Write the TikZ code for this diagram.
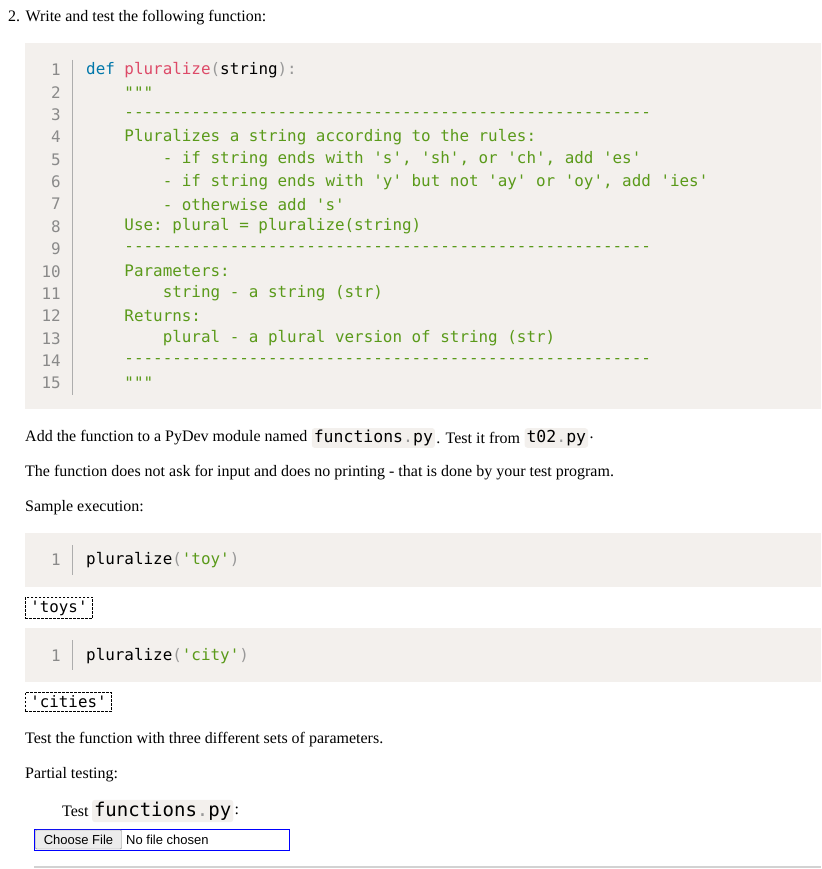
\documentclass[tikz,border=0pt]{standalone}
\usepackage{fontspec}
\setmainfont{Liberation Serif}
\setmonofont{DejaVu Sans Mono}
\newfontfamily\uisans{Liberation Sans}
\definecolor{codebg}{HTML}{F3F0ED}
\definecolor{kw}{HTML}{0077AA}
\definecolor{fn}{HTML}{DD4A68}
\definecolor{gr}{HTML}{5A9A1A}
\definecolor{pu}{HTML}{999999}
\definecolor{ln}{HTML}{8A8A8A}
\newcommand{\cw}[1]{\textcolor{kw}{#1}}
\newcommand{\cf}[1]{\textcolor{fn}{#1}}
\newcommand{\cg}[1]{\textcolor{gr}{#1}}
\newcommand{\cp}[1]{\textcolor{pu}{#1}}
\begin{document}
\begin{tikzpicture}[x=1pt,y=-1pt,
  txt/.style={anchor=west,inner sep=0pt,font=\fontsize{16}{18}\selectfont},
  code/.style={anchor=west,inner sep=0pt,font=\fontsize{15.9}{18}\ttfamily},
  num/.style={anchor=east,inner sep=0pt,text=ln,font=\fontsize{15.9}{18}\ttfamily},
  sep/.style={draw=ln!70,line width=0.8pt},
  outbox/.style={draw,dash pattern=on 2.5pt off 1.5pt,line width=0.9pt,inner xsep=5pt,inner ysep=3.5pt,anchor=west,font=\fontsize{15.8}{17}\ttfamily},
  inl/.style={fill=codebg,rounded corners=3pt,inner sep=2pt,anchor=west,font=\fontsize{16.5}{18}\ttfamily}]
\useasboundingbox (0,0) rectangle (821,869);
\node[txt] (t1) at (8,18) {2. Write and test the following function:};
\fill[codebg] (25,43) rectangle (821,409);
\draw[sep] (72,60) -- (72,395);
\foreach \i in {1,...,15}{\node[num] (n\i) at (61,{70+(\i-1)*22.36}) {\i};}
\newcommand{\dsh}{-------------------------------------------------------}
\node[code] (c1) at (86,70) {\cw{def} \cf{pluralize}\cp{(}string\cp{):}};
\node[code] (c2) at (86,92.4) {\cg{\ \ \ \ """}};
\node[code] (c3) at (86,114.7) {\cg{\ \ \ \ \dsh}};
\node[code] (c4) at (86,137.1) {\cg{\ \ \ \ Pluralizes a string according to the rules:}};
\node[code] (c5) at (86,159.4) {\cg{\ \ \ \ \ \ \ \ - if string ends with 's', 'sh', or 'ch', add 'es'}};
\node[code] (c6) at (86,181.8) {\cg{\ \ \ \ \ \ \ \ - if string ends with 'y' but not 'ay' or 'oy', add 'ies'}};
\node[code] (c7) at (86,204.2) {\cg{\ \ \ \ \ \ \ \ - otherwise add 's'}};
\node[code] (c8) at (86,226.5) {\cg{\ \ \ \ Use: plural = pluralize(string)}};
\node[code] (c9) at (86,248.9) {\cg{\ \ \ \ \dsh}};
\node[code] (c10) at (86,271.2) {\cg{\ \ \ \ Parameters:}};
\node[code] (c11) at (86,293.6) {\cg{\ \ \ \ \ \ \ \ string - a string (str)}};
\node[code] (c12) at (86,316) {\cg{\ \ \ \ Returns:}};
\node[code] (c13) at (86,338.3) {\cg{\ \ \ \ \ \ \ \ plural - a plural version of string (str)}};
\node[code] (c14) at (86,360.7) {\cg{\ \ \ \ \dsh}};
\node[code] (c15) at (86,383) {\cg{\ \ \ \ """}};
\node[txt] (a1) at (25,438) {Add the function to a PyDev module named};
\node[inl] (a2) at (a1.east) [xshift=4pt] {functions\cp{.}py};
\node[txt] (a3) at (a2.east) [xshift=1pt] {. Test it from};
\node[inl] (a4) at (a3.east) [xshift=4pt] {t02\cp{.}py};
\node[txt] (a5) at (a4.east) [xshift=1pt] {.};
\node[txt] (b1) at (25,473) {The function does not ask for input and does no printing - that is done by your test program.};
\node[txt] (b2) at (25,508) {Sample execution:};
\fill[codebg] (25,533) rectangle (821,587);
\draw[sep] (72,545) -- (72,575);
\node[num] (s1n) at (61,560) {1};
\node[code] (s1) at (86,560) {pluralize\cp{(}\cg{'toy'}\cp{)}};
\node[outbox] (o1) at (25,608) {'toys'};
\fill[codebg] (25,628) rectangle (821,682);
\draw[sep] (72,640) -- (72,670);
\node[num] (s2n) at (61,656) {1};
\node[code] (s2) at (86,656) {pluralize\cp{(}\cg{'city'}\cp{)}};
\node[outbox] (o2) at (25,702) {'cities'};
\node[txt] (d1) at (25,740) {Test the function with three different sets of parameters.};
\node[txt] (d2) at (25,775) {Partial testing:};
\node[txt] (e1) at (62,811) {Test};
\node[inl,font=\fontsize{19}{20}\ttfamily] (e2) at (e1.east) [xshift=3pt] {functions\cp{.}py};
\node[txt] (e3) at (e2.east) [xshift=1pt] {:};
\draw[draw=blue,line width=1pt] (34,829) rectangle (289,850);
\node[draw=gray,fill=gray!15,rounded corners=1pt,minimum width=86pt,minimum height=19pt,inner sep=0pt,font=\uisans\fontsize{13}{14}\selectfont] (btn) at (78.5,839.5) {Choose File};
\node[anchor=west,inner sep=0pt,font=\uisans\fontsize{13}{14}\selectfont] (nf) at (126,839.5) {No file chosen};
\draw[gray!35,line width=2pt] (34,867) -- (821,867);
\end{tikzpicture}
\end{document}
